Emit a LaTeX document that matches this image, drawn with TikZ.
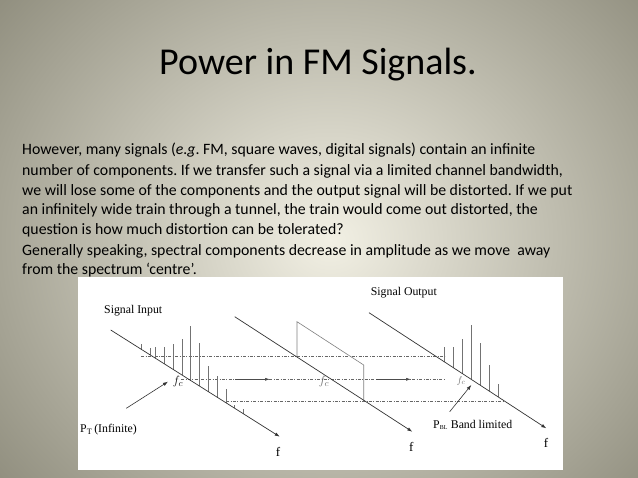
\documentclass[tikz,border=0pt]{standalone}
\usepackage{fontspec}
\setmainfont{Carlito}
\newfontfamily\tms{Liberation Serif}
\usetikzlibrary{arrows.meta}
\begin{document}
\frenchspacing
\begin{tikzpicture}[x=1pt,y=-1pt,
  axis/.style={draw=black!80,line width=0.7pt,-{Latex[length=5pt,width=3.5pt]}},
  bar/.style={draw=black!55,line width=0.6pt},
  dd/.style={draw=black!60,line width=0.5pt,dash pattern=on 3pt off 1.5pt on 0.8pt off 1.5pt},
  lbl/.style={font=\tms\fontsize{11.8}{13}\selectfont,inner sep=0pt,anchor=west},
  fc/.style={font=\tms\itshape\fontsize{13}{14}\selectfont,inner sep=0pt},
  body/.style={font=\fontsize{15.8}{19.5}\selectfont,inner sep=0pt,anchor=west,text=black}]
\useasboundingbox (0,0) rectangle (638,478);
\shade[inner color={rgb,255:red,242;green,240;blue,228},outer color={rgb,255:red,140;green,138;blue,122}] (-120,-160) rectangle (780,640);
\node[font=\fontsize{38}{40}\selectfont,text=black] (title) at (318,65) {Power in FM Signals.};
\node[body] (l1) at (22,150) {However, many signals (\textit{e.g}. FM, square waves, digital signals) contain an infinite};
\node[body] (l2) at (22,171) {number of components. If we transfer such a signal via a limited channel bandwidth,};
\node[body] (l3) at (22,191) {we will lose some of the components and the output signal will be distorted. If we put};
\node[body] (l4) at (22,210.5) {an infinitely wide train through a tunnel, the train would come out distorted, the};
\node[body] (l5) at (22,230) {question is how much distortion can be tolerated?};
\node[body] (l6) at (22,251) {Generally speaking, spectral components decrease in amplitude as we move \ away};
\node[body] (l7) at (22,270) {from the spectrum `centre'.};
\fill[white] (78,277) rectangle (563,470);
% axes
\coordinate (a1s) at (110.7,330); \coordinate (a1e) at (279.7,436.7);
\coordinate (a2s) at (234.7,316.7); \coordinate (a2e) at (412.3,431.7);
\coordinate (a3s) at (369,312.7); \coordinate (a3e) at (546.3,428.3);
% dashed lines
\coordinate (d1s) at (141,356.7); \coordinate (d1e) at (444.7,356.7);
\coordinate (d2s) at (181,379.3); \coordinate (d2e) at (444,379.3);
\coordinate (d3s) at (226,401.7); \coordinate (d3e) at (503,401.7);
\draw[dd] (d1s) -- (d1e);
\draw[dd] (d2s) -- (d2e);
\draw[dd] (d3s) -- (d3e);
\coordinate (m1s) at (234.7,379.3); \coordinate (m1e) at (270,379.3);
\coordinate (m2s) at (376,379.3); \coordinate (m2e) at (411,379.3);
\draw[draw=black!70,line width=0.5pt,-{Latex[length=5pt,width=3pt]}] (m1s) -- (m1e);
\draw[draw=black!70,line width=0.5pt,-{Latex[length=5pt,width=3pt]}] (m2s) -- (m2e);
% band-limit window
\coordinate (w1) at (297,356.7); \coordinate (w2) at (297,321.7);
\coordinate (w3) at (363.7,365); \coordinate (w4) at (363.7,401.7);
\draw[draw=black!50,line width=0.6pt] (w1) -- (w2) -- (w3) -- (w4);
% bars
\foreach \x/\t in {141.7/344,150.7/348,155.3/347,164.3/347,173.3/344,182.3/339,190.7/326,199.3/343,208.3/366,217.7/376,226/389,234.7/405,243.7/409}{
  \pgfmathsetmacro\yb{330+0.6314*(\x-110.7)}
  \draw[bar] (\x,\yb) -- (\x,\t);}
\foreach \x/\t in {444/347.3,453.3/347,462.3/339,471.3/325,480/343,489.3/365,498.3/384}{
  \pgfmathsetmacro\yb{312.7+0.652*(\x-369)}
  \draw[bar] (\x,\yb) -- (\x,\t);}
\draw[axis] (a1s) -- (a1e);
\draw[axis] (a2s) -- (a2e);
\draw[axis] (a3s) -- (a3e);
% labels
\node[lbl] (sin) at (104,311) {Signal Input};
\node[lbl] (sout) at (370.7,292.7) {Signal Output};
\node[lbl] (pt) at (80,430) {P\textsubscript{T}\,(Infinite)};
\node[lbl] (pbl) at (433,425) {P\textsubscript{\fontsize{6}{6}\selectfont BL} Band limited};
\node[fc] (fc1) at (178,382) {$f_c$};
\node[fc,text=black!60] (fc2) at (324,382) {$f_c$};
\node[fc,text=black!60,scale=0.8] (fc3) at (461,381) {$f_c$};
\node[lbl,anchor=center,font=\tms\fontsize{13}{14}\selectfont] (f1) at (278,451.7) {f};
\node[lbl,anchor=center,font=\tms\fontsize{13}{14}\selectfont] (f2) at (411.3,447.3) {f};
\node[lbl,anchor=center,font=\tms\fontsize{13}{14}\selectfont] (f3) at (546,443.3) {f};
\coordinate (p1) at (126.3,408.3); \coordinate (p1e) at (168,381.7);
\coordinate (p2) at (449.7,411.7); \coordinate (p2e) at (471.3,385);
\draw[draw=black!80,line width=0.6pt,-{Latex[length=5pt,width=3.5pt]}] (p1) -- (p1e);
\draw[draw=black!80,line width=0.6pt,-{Latex[length=5pt,width=3.5pt]}] (p2) -- (p2e);
\end{tikzpicture}
\end{document}
